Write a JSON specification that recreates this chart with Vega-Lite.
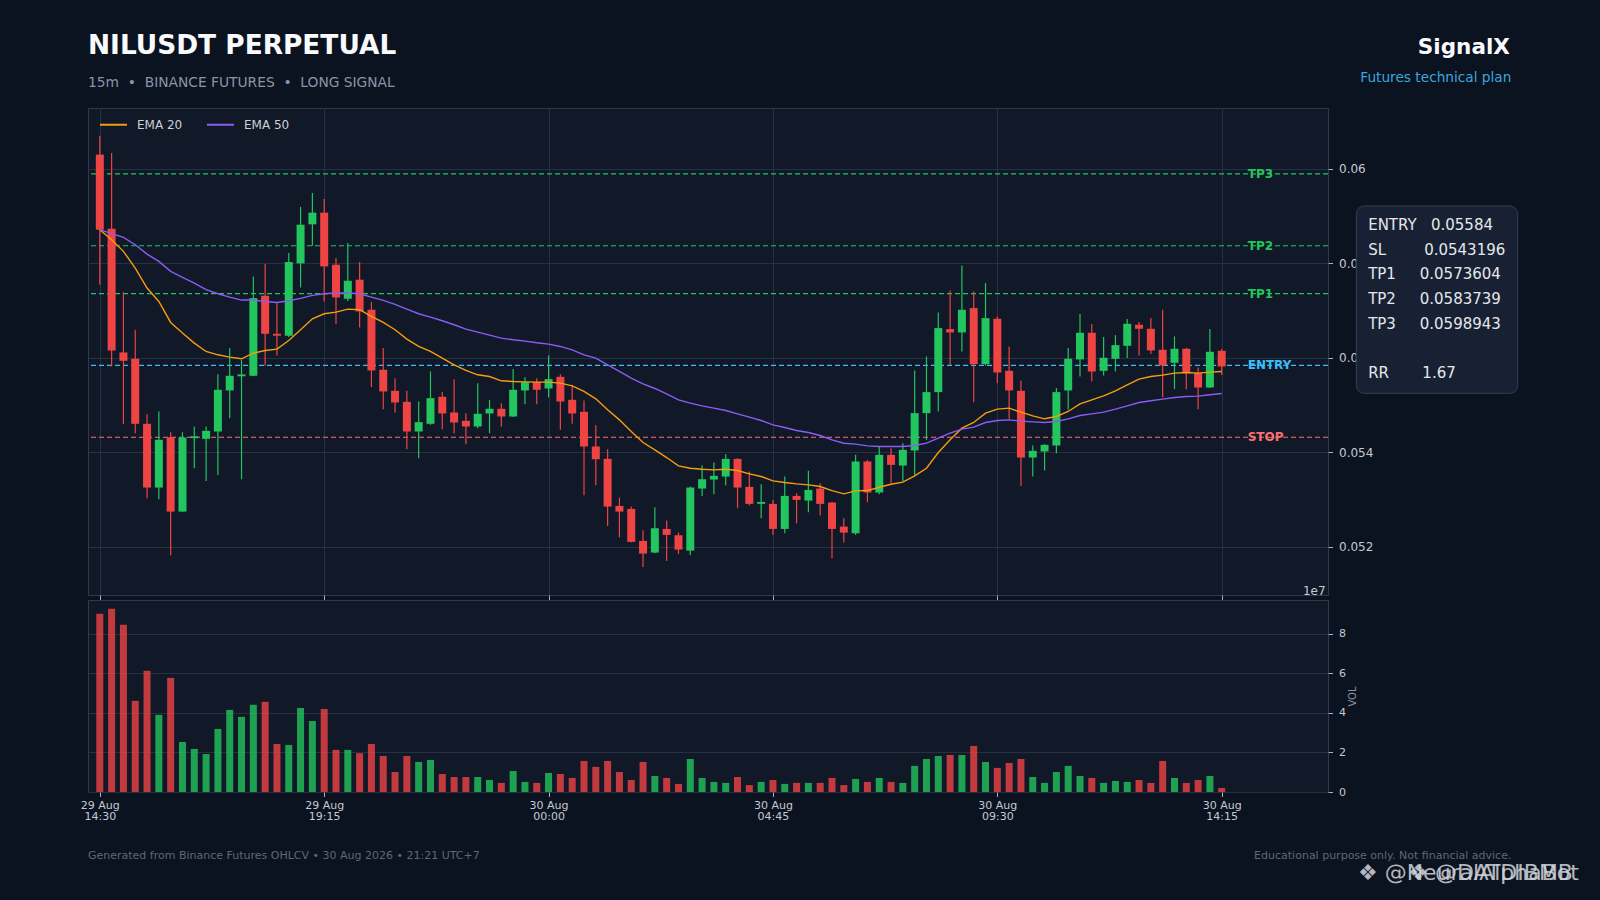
{
  "$schema": "https://vega.github.io/schema/vega-lite/v6.json",
  "description": "NILUSDT perpetual, 15m candles with EMA 20/50, trade levels and volume",
  "background": "#0b1220",
  "autosize": {"type": "none"},
  "padding": {"left": 88, "top": 108, "right": 1512, "bottom": 792},
  "bounds": "flush",
  "spacing": 5,
  "config": {
    "font": "DejaVu Sans",
    "view": {"fill": "#111827", "stroke": "#2f3a4c", "strokeWidth": 1},
    "axis": {
      "domain": false,
      "gridColor": "#263041",
      "gridWidth": 1,
      "tickColor": "#aab3bf",
      "tickSize": 4.5,
      "labelColor": "#c3cad4",
      "labelFontSize": 11,
      "titleFont": "DejaVu Sans"
    }
  },
  "datasets": {
    "levels": [
      {"name": "TP3", "price": 0.0598943},
      {"name": "TP2", "price": 0.0583739},
      {"name": "TP1", "price": 0.0573604},
      {"name": "ENTRY", "price": 0.05584},
      {"name": "STOP", "price": 0.0543196}
    ],
    "candles": [
      {"t": "2026-08-29T14:30", "o": 0.060303, "h": 0.060705, "l": 0.057548, "c": 0.058714, "v": 90100000, "e20": 0.058714, "e50": 0.058714},
      {"t": "2026-08-29T14:45", "o": 0.058735, "h": 0.060338, "l": 0.055818, "c": 0.056157, "v": 92700000, "e20": 0.058502, "e50": 0.058629},
      {"t": "2026-08-29T15:00", "o": 0.056115, "h": 0.057393, "l": 0.054597, "c": 0.055938, "v": 84600000, "e20": 0.058255, "e50": 0.058551},
      {"t": "2026-08-29T15:15", "o": 0.055981, "h": 0.056595, "l": 0.054406, "c": 0.054604, "v": 46100000, "e20": 0.057902, "e50": 0.058396},
      {"t": "2026-08-29T15:30", "o": 0.054604, "h": 0.054808, "l": 0.053029, "c": 0.053255, "v": 61300000, "e20": 0.057478, "e50": 0.058198},
      {"t": "2026-08-29T15:45", "o": 0.053255, "h": 0.054865, "l": 0.053008, "c": 0.054265, "v": 39000000, "e20": 0.057195, "e50": 0.058043},
      {"t": "2026-08-29T16:00", "o": 0.054321, "h": 0.054427, "l": 0.051821, "c": 0.052746, "v": 57700000, "e20": 0.05675, "e50": 0.057831},
      {"t": "2026-08-29T16:15", "o": 0.052746, "h": 0.054427, "l": 0.05274, "c": 0.054314, "v": 25300000, "e20": 0.056525, "e50": 0.057704},
      {"t": "2026-08-29T16:30", "o": 0.0543, "h": 0.054547, "l": 0.053664, "c": 0.05434, "v": 21800000, "e20": 0.056313, "e50": 0.057584},
      {"t": "2026-08-29T16:45", "o": 0.054286, "h": 0.054547, "l": 0.053396, "c": 0.054455, "v": 19200000, "e20": 0.056136, "e50": 0.057443},
      {"t": "2026-08-29T17:00", "o": 0.054441, "h": 0.055656, "l": 0.053523, "c": 0.055324, "v": 31900000, "e20": 0.056065, "e50": 0.057358},
      {"t": "2026-08-29T17:15", "o": 0.05531, "h": 0.056207, "l": 0.054724, "c": 0.055621, "v": 41500000, "e20": 0.056016, "e50": 0.057287},
      {"t": "2026-08-29T17:30", "o": 0.05561, "h": 0.05596, "l": 0.053431, "c": 0.05565, "v": 38000000, "e20": 0.055981, "e50": 0.057224},
      {"t": "2026-08-29T17:45", "o": 0.055621, "h": 0.057725, "l": 0.05561, "c": 0.057266, "v": 44100000, "e20": 0.056101, "e50": 0.057224},
      {"t": "2026-08-29T18:00", "o": 0.057315, "h": 0.057987, "l": 0.055832, "c": 0.05651, "v": 45600000, "e20": 0.056157, "e50": 0.057195},
      {"t": "2026-08-29T18:15", "o": 0.05651, "h": 0.05716, "l": 0.056051, "c": 0.05647, "v": 24300000, "e20": 0.056186, "e50": 0.057174},
      {"t": "2026-08-29T18:30", "o": 0.056468, "h": 0.05822, "l": 0.05644, "c": 0.058029, "v": 23800000, "e20": 0.056369, "e50": 0.05721},
      {"t": "2026-08-29T18:45", "o": 0.058001, "h": 0.059194, "l": 0.057492, "c": 0.05882, "v": 42500000, "e20": 0.056595, "e50": 0.057259},
      {"t": "2026-08-29T19:00", "o": 0.058827, "h": 0.059491, "l": 0.058375, "c": 0.059074, "v": 35900000, "e20": 0.056828, "e50": 0.057323},
      {"t": "2026-08-29T19:15", "o": 0.059074, "h": 0.059364, "l": 0.057195, "c": 0.057937, "v": 42000000, "e20": 0.056934, "e50": 0.057358},
      {"t": "2026-08-29T19:30", "o": 0.057972, "h": 0.058114, "l": 0.056715, "c": 0.05728, "v": 21300000, "e20": 0.056969, "e50": 0.057372},
      {"t": "2026-08-29T19:45", "o": 0.057252, "h": 0.058431, "l": 0.057202, "c": 0.057633, "v": 21300000, "e20": 0.057033, "e50": 0.057372},
      {"t": "2026-08-29T20:00", "o": 0.057655, "h": 0.058029, "l": 0.056645, "c": 0.056984, "v": 19600000, "e20": 0.057019, "e50": 0.057358},
      {"t": "2026-08-29T20:15", "o": 0.057019, "h": 0.057181, "l": 0.05538, "c": 0.055734, "v": 24300000, "e20": 0.056878, "e50": 0.057287},
      {"t": "2026-08-29T20:30", "o": 0.055748, "h": 0.056207, "l": 0.054915, "c": 0.055289, "v": 18200000, "e20": 0.05675, "e50": 0.057217},
      {"t": "2026-08-29T20:45", "o": 0.055303, "h": 0.055571, "l": 0.054844, "c": 0.055056, "v": 10100000, "e20": 0.056595, "e50": 0.057132},
      {"t": "2026-08-29T21:00", "o": 0.05507, "h": 0.055303, "l": 0.054067, "c": 0.054441, "v": 18200000, "e20": 0.056397, "e50": 0.057033},
      {"t": "2026-08-29T21:15", "o": 0.054441, "h": 0.055077, "l": 0.053876, "c": 0.054639, "v": 15200000, "e20": 0.056242, "e50": 0.056934},
      {"t": "2026-08-29T21:30", "o": 0.054604, "h": 0.055712, "l": 0.054582, "c": 0.055148, "v": 16200000, "e20": 0.056136, "e50": 0.056864},
      {"t": "2026-08-29T21:45", "o": 0.055176, "h": 0.055275, "l": 0.054491, "c": 0.054823, "v": 9100000, "e20": 0.055995, "e50": 0.056786},
      {"t": "2026-08-29T22:00", "o": 0.054844, "h": 0.05555, "l": 0.054406, "c": 0.054632, "v": 7600000, "e20": 0.055854, "e50": 0.056701},
      {"t": "2026-08-29T22:15", "o": 0.054667, "h": 0.05483, "l": 0.054173, "c": 0.054547, "v": 7600000, "e20": 0.055734, "e50": 0.056609},
      {"t": "2026-08-29T22:30", "o": 0.054547, "h": 0.055465, "l": 0.054512, "c": 0.054816, "v": 7600000, "e20": 0.055642, "e50": 0.056546},
      {"t": "2026-08-29T22:45", "o": 0.054823, "h": 0.055112, "l": 0.054406, "c": 0.054922, "v": 6100000, "e20": 0.055606, "e50": 0.056482},
      {"t": "2026-08-29T23:00", "o": 0.054922, "h": 0.055042, "l": 0.054547, "c": 0.054759, "v": 4600000, "e20": 0.055515, "e50": 0.056419},
      {"t": "2026-08-29T23:15", "o": 0.054759, "h": 0.055762, "l": 0.05475, "c": 0.055324, "v": 10600000, "e20": 0.0555, "e50": 0.056383},
      {"t": "2026-08-29T23:30", "o": 0.05531, "h": 0.055592, "l": 0.05502, "c": 0.055486, "v": 5100000, "e20": 0.055493, "e50": 0.056355},
      {"t": "2026-08-29T23:45", "o": 0.055486, "h": 0.055571, "l": 0.05502, "c": 0.055324, "v": 4600000, "e20": 0.055486, "e50": 0.05632},
      {"t": "2026-08-30T00:00", "o": 0.055352, "h": 0.056051, "l": 0.055162, "c": 0.05555, "v": 9600000, "e20": 0.055486, "e50": 0.056292},
      {"t": "2026-08-30T00:15", "o": 0.055599, "h": 0.055656, "l": 0.054477, "c": 0.055077, "v": 9100000, "e20": 0.055465, "e50": 0.056242},
      {"t": "2026-08-30T00:30", "o": 0.055112, "h": 0.05543, "l": 0.054604, "c": 0.054823, "v": 7100000, "e20": 0.055409, "e50": 0.056171},
      {"t": "2026-08-30T00:45", "o": 0.054858, "h": 0.055098, "l": 0.053092, "c": 0.054124, "v": 15700000, "e20": 0.055289, "e50": 0.056065},
      {"t": "2026-08-30T01:00", "o": 0.054124, "h": 0.054576, "l": 0.053304, "c": 0.053855, "v": 12700000, "e20": 0.055133, "e50": 0.055995},
      {"t": "2026-08-30T01:15", "o": 0.053862, "h": 0.054067, "l": 0.052443, "c": 0.052852, "v": 15700000, "e20": 0.0549, "e50": 0.055854},
      {"t": "2026-08-30T01:30", "o": 0.052866, "h": 0.053043, "l": 0.052203, "c": 0.052746, "v": 10100000, "e20": 0.054688, "e50": 0.055712},
      {"t": "2026-08-30T01:45", "o": 0.052803, "h": 0.052852, "l": 0.05209, "c": 0.052104, "v": 6100000, "e20": 0.054441, "e50": 0.055571},
      {"t": "2026-08-30T02:00", "o": 0.052125, "h": 0.052351, "l": 0.051574, "c": 0.051857, "v": 15200000, "e20": 0.054208, "e50": 0.055451},
      {"t": "2026-08-30T02:15", "o": 0.051878, "h": 0.052838, "l": 0.051864, "c": 0.052393, "v": 8100000, "e20": 0.054053, "e50": 0.055352},
      {"t": "2026-08-30T02:30", "o": 0.052379, "h": 0.052556, "l": 0.051701, "c": 0.052252, "v": 7100000, "e20": 0.05389, "e50": 0.055239},
      {"t": "2026-08-30T02:45", "o": 0.052245, "h": 0.052301, "l": 0.05185, "c": 0.051941, "v": 4100000, "e20": 0.053714, "e50": 0.055112},
      {"t": "2026-08-30T03:00", "o": 0.05192, "h": 0.053276, "l": 0.051828, "c": 0.053255, "v": 16700000, "e20": 0.053664, "e50": 0.055041},
      {"t": "2026-08-30T03:15", "o": 0.053234, "h": 0.053728, "l": 0.053078, "c": 0.053431, "v": 7100000, "e20": 0.053643, "e50": 0.054985},
      {"t": "2026-08-30T03:30", "o": 0.053424, "h": 0.053784, "l": 0.053114, "c": 0.053502, "v": 5100000, "e20": 0.053629, "e50": 0.054936},
      {"t": "2026-08-30T03:45", "o": 0.053488, "h": 0.053961, "l": 0.053297, "c": 0.053862, "v": 4600000, "e20": 0.053643, "e50": 0.054886},
      {"t": "2026-08-30T04:00", "o": 0.053862, "h": 0.053876, "l": 0.052817, "c": 0.053255, "v": 7600000, "e20": 0.053615, "e50": 0.054815},
      {"t": "2026-08-30T04:15", "o": 0.053269, "h": 0.053594, "l": 0.052873, "c": 0.052909, "v": 3500000, "e20": 0.053544, "e50": 0.054745},
      {"t": "2026-08-30T04:30", "o": 0.05291, "h": 0.053325, "l": 0.052605, "c": 0.05295, "v": 5100000, "e20": 0.053488, "e50": 0.054674},
      {"t": "2026-08-30T04:45", "o": 0.052909, "h": 0.052993, "l": 0.052252, "c": 0.052379, "v": 6100000, "e20": 0.053396, "e50": 0.054582},
      {"t": "2026-08-30T05:00", "o": 0.052379, "h": 0.053488, "l": 0.052287, "c": 0.053078, "v": 4100000, "e20": 0.053361, "e50": 0.054526},
      {"t": "2026-08-30T05:15", "o": 0.053078, "h": 0.053135, "l": 0.052499, "c": 0.052993, "v": 4600000, "e20": 0.053332, "e50": 0.054462},
      {"t": "2026-08-30T05:30", "o": 0.052979, "h": 0.053608, "l": 0.052732, "c": 0.053205, "v": 4600000, "e20": 0.053311, "e50": 0.05442},
      {"t": "2026-08-30T05:45", "o": 0.053234, "h": 0.053347, "l": 0.052662, "c": 0.052909, "v": 4600000, "e20": 0.053276, "e50": 0.054356},
      {"t": "2026-08-30T06:00", "o": 0.052937, "h": 0.05295, "l": 0.051758, "c": 0.052379, "v": 7100000, "e20": 0.053191, "e50": 0.054265},
      {"t": "2026-08-30T06:15", "o": 0.052428, "h": 0.052605, "l": 0.05209, "c": 0.052301, "v": 3500000, "e20": 0.053121, "e50": 0.054194},
      {"t": "2026-08-30T06:30", "o": 0.052287, "h": 0.053947, "l": 0.052252, "c": 0.053806, "v": 6600000, "e20": 0.053184, "e50": 0.054173},
      {"t": "2026-08-30T06:45", "o": 0.053806, "h": 0.053841, "l": 0.052944, "c": 0.05315, "v": 5100000, "e20": 0.053191, "e50": 0.054138},
      {"t": "2026-08-30T07:00", "o": 0.05315, "h": 0.054124, "l": 0.053114, "c": 0.053947, "v": 7100000, "e20": 0.053262, "e50": 0.054123},
      {"t": "2026-08-30T07:15", "o": 0.053947, "h": 0.054088, "l": 0.053347, "c": 0.053735, "v": 5100000, "e20": 0.053325, "e50": 0.054123},
      {"t": "2026-08-30T07:30", "o": 0.05372, "h": 0.054194, "l": 0.053396, "c": 0.054053, "v": 4600000, "e20": 0.053368, "e50": 0.054123},
      {"t": "2026-08-30T07:45", "o": 0.054039, "h": 0.055733, "l": 0.053523, "c": 0.05483, "v": 13200000, "e20": 0.053502, "e50": 0.054145},
      {"t": "2026-08-30T08:00", "o": 0.05483, "h": 0.05603, "l": 0.054265, "c": 0.055275, "v": 16700000, "e20": 0.053664, "e50": 0.054194},
      {"t": "2026-08-30T08:15", "o": 0.055275, "h": 0.056962, "l": 0.054865, "c": 0.05663, "v": 18200000, "e20": 0.053996, "e50": 0.0543},
      {"t": "2026-08-30T08:30", "o": 0.056609, "h": 0.057429, "l": 0.055854, "c": 0.056539, "v": 18700000, "e20": 0.054265, "e50": 0.054406},
      {"t": "2026-08-30T08:45", "o": 0.056539, "h": 0.057958, "l": 0.056136, "c": 0.057019, "v": 18700000, "e20": 0.054512, "e50": 0.054491},
      {"t": "2026-08-30T09:00", "o": 0.057054, "h": 0.057407, "l": 0.055063, "c": 0.055868, "v": 23300000, "e20": 0.054632, "e50": 0.054533},
      {"t": "2026-08-30T09:15", "o": 0.055868, "h": 0.057584, "l": 0.05584, "c": 0.056842, "v": 15200000, "e20": 0.05483, "e50": 0.054632},
      {"t": "2026-08-30T09:30", "o": 0.056828, "h": 0.056878, "l": 0.055465, "c": 0.055691, "v": 12200000, "e20": 0.054914, "e50": 0.054674},
      {"t": "2026-08-30T09:45", "o": 0.055726, "h": 0.056242, "l": 0.05471, "c": 0.05531, "v": 14700000, "e20": 0.054936, "e50": 0.054688},
      {"t": "2026-08-30T10:00", "o": 0.055303, "h": 0.055522, "l": 0.05329, "c": 0.05389, "v": 16700000, "e20": 0.054851, "e50": 0.05466},
      {"t": "2026-08-30T10:15", "o": 0.05389, "h": 0.054145, "l": 0.053488, "c": 0.054032, "v": 7600000, "e20": 0.054773, "e50": 0.054646},
      {"t": "2026-08-30T10:30", "o": 0.054018, "h": 0.054173, "l": 0.053615, "c": 0.054159, "v": 4600000, "e20": 0.05471, "e50": 0.054632},
      {"t": "2026-08-30T10:45", "o": 0.054145, "h": 0.05536, "l": 0.053982, "c": 0.055275, "v": 10100000, "e20": 0.054759, "e50": 0.054653},
      {"t": "2026-08-30T11:00", "o": 0.05531, "h": 0.056207, "l": 0.0549, "c": 0.055981, "v": 13200000, "e20": 0.054865, "e50": 0.05471},
      {"t": "2026-08-30T11:15", "o": 0.055967, "h": 0.056927, "l": 0.055607, "c": 0.056532, "v": 8100000, "e20": 0.055027, "e50": 0.05478},
      {"t": "2026-08-30T11:30", "o": 0.056532, "h": 0.056715, "l": 0.0555, "c": 0.055712, "v": 7100000, "e20": 0.055112, "e50": 0.054815},
      {"t": "2026-08-30T11:45", "o": 0.055726, "h": 0.05644, "l": 0.055628, "c": 0.056002, "v": 4600000, "e20": 0.055197, "e50": 0.054851},
      {"t": "2026-08-30T12:00", "o": 0.055981, "h": 0.056482, "l": 0.055712, "c": 0.05627, "v": 5600000, "e20": 0.055303, "e50": 0.054914},
      {"t": "2026-08-30T12:15", "o": 0.056256, "h": 0.056821, "l": 0.055995, "c": 0.056722, "v": 5100000, "e20": 0.05543, "e50": 0.054985},
      {"t": "2026-08-30T12:30", "o": 0.056701, "h": 0.056757, "l": 0.056051, "c": 0.056616, "v": 6100000, "e20": 0.05555, "e50": 0.055056},
      {"t": "2026-08-30T12:45", "o": 0.056616, "h": 0.056842, "l": 0.05608, "c": 0.056157, "v": 4600000, "e20": 0.055606, "e50": 0.055091},
      {"t": "2026-08-30T13:00", "o": 0.056172, "h": 0.057019, "l": 0.055169, "c": 0.05584, "v": 15700000, "e20": 0.055635, "e50": 0.055126},
      {"t": "2026-08-30T13:15", "o": 0.055896, "h": 0.056454, "l": 0.055338, "c": 0.056193, "v": 7100000, "e20": 0.055677, "e50": 0.055162},
      {"t": "2026-08-30T13:30", "o": 0.056193, "h": 0.056207, "l": 0.055338, "c": 0.055691, "v": 4600000, "e20": 0.055691, "e50": 0.055183},
      {"t": "2026-08-30T13:45", "o": 0.055677, "h": 0.055797, "l": 0.054915, "c": 0.055373, "v": 6100000, "e20": 0.055677, "e50": 0.05519},
      {"t": "2026-08-30T14:00", "o": 0.055373, "h": 0.056609, "l": 0.05536, "c": 0.056129, "v": 8100000, "e20": 0.055698, "e50": 0.055218},
      {"t": "2026-08-30T14:15", "o": 0.05615, "h": 0.056186, "l": 0.055635, "c": 0.055818, "v": 2000000, "e20": 0.055712, "e50": 0.055246}
    ]
  },
  "vconcat": [
    {
      "width": 1240,
      "height": 487,
      "data": {"name": "candles"},
      "layer": [
        {
          "data": {"name": "levels"},
          "mark": {"type": "rule", "strokeDash": [5, 3], "strokeWidth": 1.2},
          "encoding": {
            "y": {
              "field": "price", "type": "quantitative", "title": null,
              "scale": {"domain": [0.05098, 0.06129], "nice": false, "zero": false, "padding": 0},
              "axis": {"orient": "right", "values": [0.052, 0.054, 0.056, 0.058, 0.06], "format": "~g", "labelFontSize": 12, "labelPadding": 6, "grid": true}
            },
            "color": {
              "condition": [
                {"test": "datum.name === 'ENTRY'", "value": "#38bdf8"},
                {"test": "datum.name === 'STOP'", "value": "#f87171"}
              ],
              "value": "#22c55e"
            }
          }
        },
        {
          "mark": {"type": "rule", "strokeWidth": 1.2},
          "encoding": {
            "x": {
              "field": "t", "type": "temporal", "title": null,
              "scale": {"padding": 0, "domain": [
                {"year": 2026, "month": 8, "date": 29, "hours": 14, "minutes": 15},
                {"year": 2026, "month": 8, "date": 30, "hours": 16, "minutes": 30}
              ]},
              "axis": {
                "values": [
                  {"year": 2026, "month": 8, "date": 29, "hours": 14, "minutes": 30},
                  {"year": 2026, "month": 8, "date": 29, "hours": 19, "minutes": 15},
                  {"year": 2026, "month": 8, "date": 30, "hours": 0, "minutes": 0},
                  {"year": 2026, "month": 8, "date": 30, "hours": 4, "minutes": 45},
                  {"year": 2026, "month": 8, "date": 30, "hours": 9, "minutes": 30},
                  {"year": 2026, "month": 8, "date": 30, "hours": 14, "minutes": 15}
                ],
                "labels": false,
                "grid": true
              }
            },
            "y": {"field": "l", "type": "quantitative", "title": null},
            "y2": {"field": "h"},
            "color": {"condition": {"test": "datum.c >= datum.o", "value": "#22c55e"}, "value": "#ef4444"}
          }
        },
        {
          "mark": {"type": "bar", "size": 8},
          "encoding": {
            "x": {"field": "t", "type": "temporal", "title": null},
            "y": {"field": "o", "type": "quantitative", "title": null},
            "y2": {"field": "c"},
            "color": {"condition": {"test": "datum.c >= datum.o", "value": "#22c55e"}, "value": "#ef4444"}
          }
        },
        {
          "transform": [{"fold": ["e20", "e50"], "as": ["ema", "val"]}],
          "mark": {"type": "line", "strokeWidth": 1.4},
          "encoding": {
            "x": {"field": "t", "type": "temporal", "title": null},
            "y": {"field": "val", "type": "quantitative", "title": null},
            "color": {
              "field": "ema", "type": "nominal",
              "scale": {"domain": ["e20", "e50"], "range": ["#f59e0b", "#8b5cf6"]},
              "legend": {
                "orient": "none", "legendX": 9, "legendY": 0, "direction": "horizontal", "title": null,
                "labelExpr": "datum.value == 'e20' ? 'EMA 20' : 'EMA 50'",
                "symbolType": "stroke", "symbolSize": 729, "symbolStrokeWidth": 2,
                "labelColor": "#c9d1d9", "labelFontSize": 12, "labelOffset": 9,
                "columnPadding": 20, "padding": 2
              }
            }
          }
        },
        {
          "data": {"name": "levels"},
          "mark": {"type": "text", "align": "left", "baseline": "middle", "fontSize": 12, "fontWeight": "bold"},
          "encoding": {
            "x": {"datum": {"year": 2026, "month": 8, "date": 30, "hours": 14, "minutes": 48}, "type": "temporal"},
            "y": {"field": "price", "type": "quantitative", "title": null},
            "text": {"field": "name"},
            "color": {
              "condition": [
                {"test": "datum.name === 'ENTRY'", "value": "#38bdf8"},
                {"test": "datum.name === 'STOP'", "value": "#f87171"}
              ],
              "value": "#22c55e"
            }
          }
        },
        {
          "data": {"values": [{}]},
          "mark": {"type": "rect", "fill": "#172133", "stroke": "#334155", "strokeWidth": 1, "cornerRadius": 8},
          "encoding": {
            "x": {"datum": {"year": 2026, "month": 8, "date": 30, "hours": 17, "minutes": 6}, "type": "temporal"},
            "x2": {"datum": {"year": 2026, "month": 8, "date": 30, "hours": 20, "minutes": 31}},
            "y": {"datum": 0.059215, "type": "quantitative"},
            "y2": {"datum": 0.05525}
          }
        },
        {
          "data": {"values": [{}]},
          "mark": {
            "type": "text", "align": "left", "baseline": "alphabetic", "fontSize": 15, "lineHeight": 24.7, "color": "#e5e7eb",
            "text": [
              "ENTRY\u00a0\u00a0\u00a00.05584",
              "SL\u00a0\u00a0\u00a0\u00a0\u00a0\u00a0\u00a0\u00a00.0543196",
              "TP1\u00a0\u00a0\u00a0\u00a0\u00a00.0573604",
              "TP2\u00a0\u00a0\u00a0\u00a0\u00a00.0583739",
              "TP3\u00a0\u00a0\u00a0\u00a0\u00a00.0598943"
            ]
          },
          "encoding": {
            "x": {"datum": {"year": 2026, "month": 8, "date": 30, "hours": 17, "minutes": 21}, "type": "temporal"},
            "y": {"datum": 0.058707, "type": "quantitative"}
          }
        },
        {
          "data": {"values": [{}]},
          "mark": {"type": "text", "align": "left", "baseline": "alphabetic", "fontSize": 15, "color": "#e5e7eb", "text": "RR\u00a0\u00a0\u00a0\u00a0\u00a0\u00a0\u00a01.67"},
          "encoding": {
            "x": {"datum": {"year": 2026, "month": 8, "date": 30, "hours": 17, "minutes": 21}, "type": "temporal"},
            "y": {"datum": 0.055574, "type": "quantitative"}
          }
        },
        {
          "data": {"values": [{}]},
          "mark": {"type": "text", "align": "left", "baseline": "alphabetic", "fontSize": 26.4, "fontWeight": "bold", "color": "#f8fafc", "text": "NILUSDT PERPETUAL"},
          "encoding": {
            "x": {"datum": {"year": 2026, "month": 8, "date": 29, "hours": 14, "minutes": 15}, "type": "temporal"},
            "y": {"datum": 0.062427, "type": "quantitative"}
          }
        },
        {
          "data": {"values": [{}]},
          "mark": {"type": "text", "align": "left", "baseline": "alphabetic", "fontSize": 13.8, "color": "#8b95a5", "text": "15m\u00a0\u00a0•\u00a0\u00a0BINANCE FUTURES\u00a0\u00a0•\u00a0\u00a0LONG SIGNAL"},
          "encoding": {
            "x": {"datum": {"year": 2026, "month": 8, "date": 29, "hours": 14, "minutes": 15}, "type": "temporal"},
            "y": {"datum": 0.061741, "type": "quantitative"}
          }
        },
        {
          "data": {"values": [{}]},
          "mark": {"type": "text", "align": "right", "baseline": "alphabetic", "fontSize": 21.5, "fontWeight": "bold", "color": "#f8fafc", "text": "SignalX"},
          "encoding": {
            "x": {"datum": {"year": 2026, "month": 8, "date": 30, "hours": 20, "minutes": 21}, "type": "temporal"},
            "y": {"datum": 0.062433, "type": "quantitative"}
          }
        },
        {
          "data": {"values": [{}]},
          "mark": {"type": "text", "align": "right", "baseline": "alphabetic", "fontSize": 13.7, "color": "#3ba7dc", "text": "Futures technical plan"},
          "encoding": {
            "x": {"datum": {"year": 2026, "month": 8, "date": 30, "hours": 20, "minutes": 23}, "type": "temporal"},
            "y": {"datum": 0.061847, "type": "quantitative"}
          }
        }
      ]
    },
    {
      "width": 1240,
      "height": 192,
      "data": {"name": "candles"},
      "layer": [
        {
          "mark": {"type": "bar", "size": 7, "opacity": 0.8},
          "encoding": {
            "x": {
              "field": "t", "type": "temporal", "title": null,
              "scale": {"padding": 0, "domain": [
                {"year": 2026, "month": 8, "date": 29, "hours": 14, "minutes": 15},
                {"year": 2026, "month": 8, "date": 30, "hours": 16, "minutes": 30}
              ]},
              "axis": {
                "values": [
                  {"year": 2026, "month": 8, "date": 29, "hours": 14, "minutes": 30},
                  {"year": 2026, "month": 8, "date": 29, "hours": 19, "minutes": 15},
                  {"year": 2026, "month": 8, "date": 30, "hours": 0, "minutes": 0},
                  {"year": 2026, "month": 8, "date": 30, "hours": 4, "minutes": 45},
                  {"year": 2026, "month": 8, "date": 30, "hours": 9, "minutes": 30},
                  {"year": 2026, "month": 8, "date": 30, "hours": 14, "minutes": 15}
                ],
                "grid": false,
                "labelExpr": "[timeFormat(datum.value, '%d %b'), timeFormat(datum.value, '%H:%M')]",
                "labelLineHeight": 11,
                "labelPadding": 3
              }
            },
            "y": {
              "field": "v", "type": "quantitative", "title": "VOL",
              "scale": {"domain": [0, 97100000], "nice": false},
              "axis": {
                "orient": "right", "values": [0, 20000000, 40000000, 60000000, 80000000],
                "labelExpr": "format(datum.value / 10000000, 'd')",
                "grid": true, "labelPadding": 6,
                "titleAngle": 270, "titleColor": "#8a94a3", "titleFontSize": 10, "titleFontWeight": "normal", "titlePadding": 12
              }
            },
            "color": {"condition": {"test": "datum.c >= datum.o", "value": "#22c55e"}, "value": "#ef4444"}
          }
        },
        {
          "data": {"values": [{}]},
          "mark": {"type": "text", "align": "right", "baseline": "alphabetic", "fontSize": 12, "color": "#c3cad4", "text": "1e7"},
          "encoding": {
            "x": {"datum": {"year": 2026, "month": 8, "date": 30, "hours": 16, "minutes": 27}, "type": "temporal"},
            "y": {"datum": 99630000, "type": "quantitative"}
          }
        },
        {
          "data": {"values": [{}]},
          "mark": {"type": "text", "align": "left", "baseline": "middle", "fontSize": 11, "color": "#5d6879", "text": "Generated from Binance Futures OHLCV • 30 Aug 2026 • 21:21 UTC+7"},
          "encoding": {
            "x": {"datum": {"year": 2026, "month": 8, "date": 29, "hours": 14, "minutes": 15}, "type": "temporal"},
            "y": {"datum": -32370000, "type": "quantitative"}
          }
        },
        {
          "data": {"values": [{}]},
          "mark": {"type": "text", "align": "right", "baseline": "middle", "fontSize": 11, "color": "#5d6879", "text": "Educational purpose only. Not financial advice."},
          "encoding": {
            "x": {"datum": {"year": 2026, "month": 8, "date": 30, "hours": 20, "minutes": 23}, "type": "temporal"},
            "y": {"datum": -32370000, "type": "quantitative"}
          }
        },
        {
          "data": {"values": [{}]},
          "mark": {"type": "text", "align": "left", "baseline": "middle", "fontSize": 22, "color": "#d1d5db", "opacity": 0.85, "text": "❖ @NeuralAlphaBot"},
          "encoding": {
            "x": {"datum": {"year": 2026, "month": 8, "date": 30, "hours": 17, "minutes": 8}, "type": "temporal"},
            "y": {"datum": -40960000, "type": "quantitative"}
          }
        },
        {
          "data": {"values": [{}]},
          "mark": {"type": "text", "align": "left", "baseline": "middle", "fontSize": 22, "color": "#d1d5db", "opacity": 0.85, "text": "❖ @DATDIBMB"},
          "encoding": {
            "x": {"datum": {"year": 2026, "month": 8, "date": 30, "hours": 18, "minutes": 12}, "type": "temporal"},
            "y": {"datum": -40960000, "type": "quantitative"}
          }
        }
      ]
    }
  ]
}
